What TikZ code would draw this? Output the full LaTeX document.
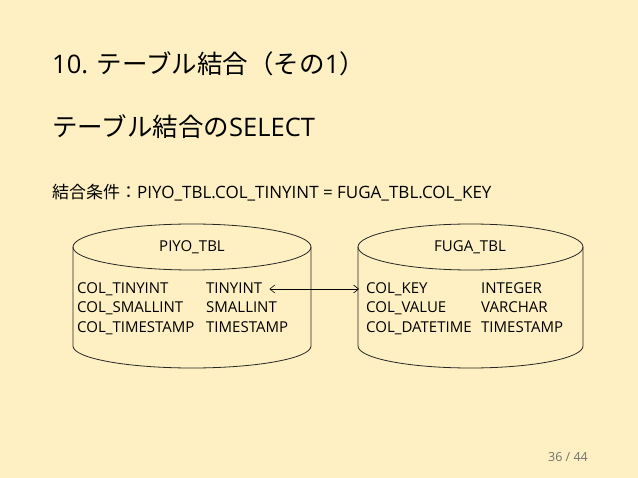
\documentclass[tikz,border=0pt]{standalone}
\usepackage{fontspec}
\setmainfont{Open Sans}
\newfontfamily\cjk{Noto Sans CJK JP}
\usetikzlibrary{arrows.meta}
\begin{document}
\begin{tikzpicture}[x=1pt,y=-1pt,
  txt/.style={anchor=base west,inner sep=0pt,font=\fontsize{15}{17}\selectfont},
  cyl/.style={draw=black!85,line width=0.8pt}]
\fill[fill={rgb,255:red,254;green,240;blue,194}] (0,0) rectangle (638,478);
\useasboundingbox (0,0) rectangle (638,478);
\node[anchor=base west,inner sep=0pt,font=\fontsize{25.5}{28}\selectfont] (title) at (52,74) {10. {\cjk テーブル結合（その}1{\cjk ）}};
\node[anchor=base west,inner sep=0pt,font=\fontsize{25.5}{28}\selectfont] (sub) at (52,137) {{\cjk テーブル結合の}SELECT};
\node[anchor=base west,inner sep=0pt,font=\fontsize{17}{19}\selectfont] (cond) at (52,199) {{\cjk 結合条件：}PIYO\_TBL.COL\_TINYINT = FUGA\_TBL.COL\_KEY};
% left cylinder
\draw[cyl] (192,247) ellipse[x radius=119,y radius=23];
\draw[cyl] (73,247) -- (73,346) arc[start angle=180,end angle=0,x radius=119,y radius=22] -- (311,247);
% right cylinder
\draw[cyl] (470.5,247) ellipse[x radius=112.5,y radius=23];
\draw[cyl] (358,247) -- (358,346) arc[start angle=180,end angle=0,x radius=112.5,y radius=22] -- (583,247);
\node[txt,anchor=base] (piyo) at (192,252) {PIYO\_TBL};
\node[txt,anchor=base] (fuga) at (470,252) {FUGA\_TBL};
\node[txt] (l1) at (77,294) {COL\_TINYINT};
\node[txt] (l2) at (77,313) {COL\_SMALLINT};
\node[txt] (l3) at (77,333) {COL\_TIMESTAMP};
\node[txt] (t1) at (206,294) {TINYINT};
\node[txt] (t2) at (206,313) {SMALLINT};
\node[txt] (t3) at (206,333) {TIMESTAMP};
\node[txt] (r1) at (366,294) {COL\_KEY};
\node[txt] (r2) at (366,313) {COL\_VALUE};
\node[txt] (r3) at (366,333) {COL\_DATETIME};
\node[txt] (u1) at (481,294) {INTEGER};
\node[txt] (u2) at (481,313) {VARCHAR};
\node[txt] (u3) at (481,333) {TIMESTAMP};
\draw[{Straight Barb[length=5pt,width=8pt]}-{Straight Barb[length=5pt,width=8pt]},line width=0.6pt] ([xshift=7pt,yshift=5pt]t1.base east) -- ([xshift=-7pt,yshift=5pt]r1.base west);
\node[anchor=base east,inner sep=0pt,text=black!55,font=\fontsize{12.5}{14}\selectfont] (pg) at (588,462) {36 / 44};
\end{tikzpicture}
\end{document}
